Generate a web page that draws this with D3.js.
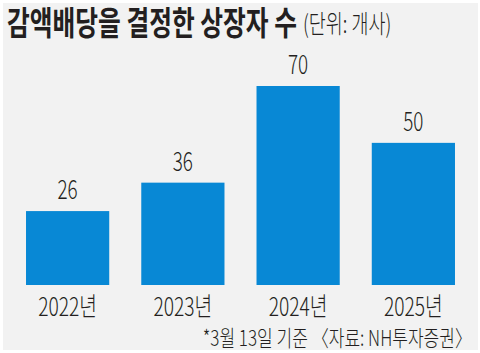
<!DOCTYPE html>
<html>
<head>
<meta charset="utf-8">
<script src="https://cdn.jsdelivr.net/npm/d3@7"></script>
<style>
  body { margin: 0; background: #fff; }
  text { font-family: "Noto Sans CJK KR", "Noto Sans", sans-serif; fill: #231f20; }
</style>
</head>
<body>
<div id="chart-area"></div>
<script>
const categories = ['2022년', '2023년', '2024년', '2025년'];
const values = [26, 36, 70, 50];
const titleMain = '감액배당을 결정한 상장자 수';
const titleUnit = '(단위: 개사)';
const footnote = '*3월 13일 기준 〈자료: NH투자증권〉';

const widthSvg = 480;
const heightSvg = 353;
const squeeze = 0.74;

const svg = d3.select('#chart-area').append('svg')
  .attr('width', widthSvg)
  .attr('height', heightSvg);

svg.append('rect')
  .attr('x', 3).attr('y', 3)
  .attr('width', 475).attr('height', 347)
  .attr('fill', '#f2f2f2');

// title
svg.append('text')
  .text(titleMain)
  .attr('transform', `translate(7, 35) scale(0.75, 1)`)
  .attr('font-size', '33px')
  .attr('font-weight', 700);

svg.append('text')
  .text(titleUnit)
  .attr('transform', `translate(303, 33) scale(${squeeze}, 1)`)
  .attr('font-size', '25px')
  .attr('font-weight', 300);

const scaleX = d3.scaleBand()
  .domain(categories)
  .range([10, 471])
  .paddingInner(0.278)
  .paddingOuter(0.139);

const scaleY = d3.scaleLinear()
  .domain([0, d3.max(values)])
  .range([285, 86]);

const data = categories.map((c, i) => ({ year: c, value: values[i] }));

svg.selectAll('rect.bar')
  .data(data)
  .enter()
  .append('rect')
    .attr('class', 'bar')
    .attr('x', d => scaleX(d.year))
    .attr('y', d => scaleY(d.value))
    .attr('width', scaleX.bandwidth())
    .attr('height', d => scaleY(0) - scaleY(d.value))
    .attr('fill', '#0888d5');

svg.selectAll('text.val')
  .data(data)
  .enter()
  .append('text')
    .attr('class', 'val')
    .text(d => d.value)
    .attr('text-anchor', 'middle')
    .attr('font-size', '27px')
    .attr('font-weight', 300)
    .attr('transform', d => `translate(${scaleX(d.year) + scaleX.bandwidth() / 2}, ${scaleY(d.value) - 12}) scale(0.7, 1)`);

const axisX = d3.axisBottom(scaleX).tickSize(0).tickPadding(0);
const axisGroupX = svg.append('g')
  .attr('transform', `translate(0, 285)`)
  .call(axisX);
axisGroupX.select('.domain').remove();
axisGroupX.selectAll('text')
  .attr('y', 31)
  .attr('dy', 0)
  .attr('font-size', '26px')
  .attr('font-weight', 300)
  .attr('font-family', '"Noto Sans CJK KR", sans-serif')
  .attr('fill', '#231f20')
  .attr('transform', `scale(${squeeze}, 1)`);

svg.append('text')
  .text(footnote)
  .attr('text-anchor', 'end')
  .attr('font-size', '22px')
  .attr('font-weight', 300)
  .attr('transform', `translate(472, 346) scale(0.775, 1)`);
</script>
</body>
</html>
